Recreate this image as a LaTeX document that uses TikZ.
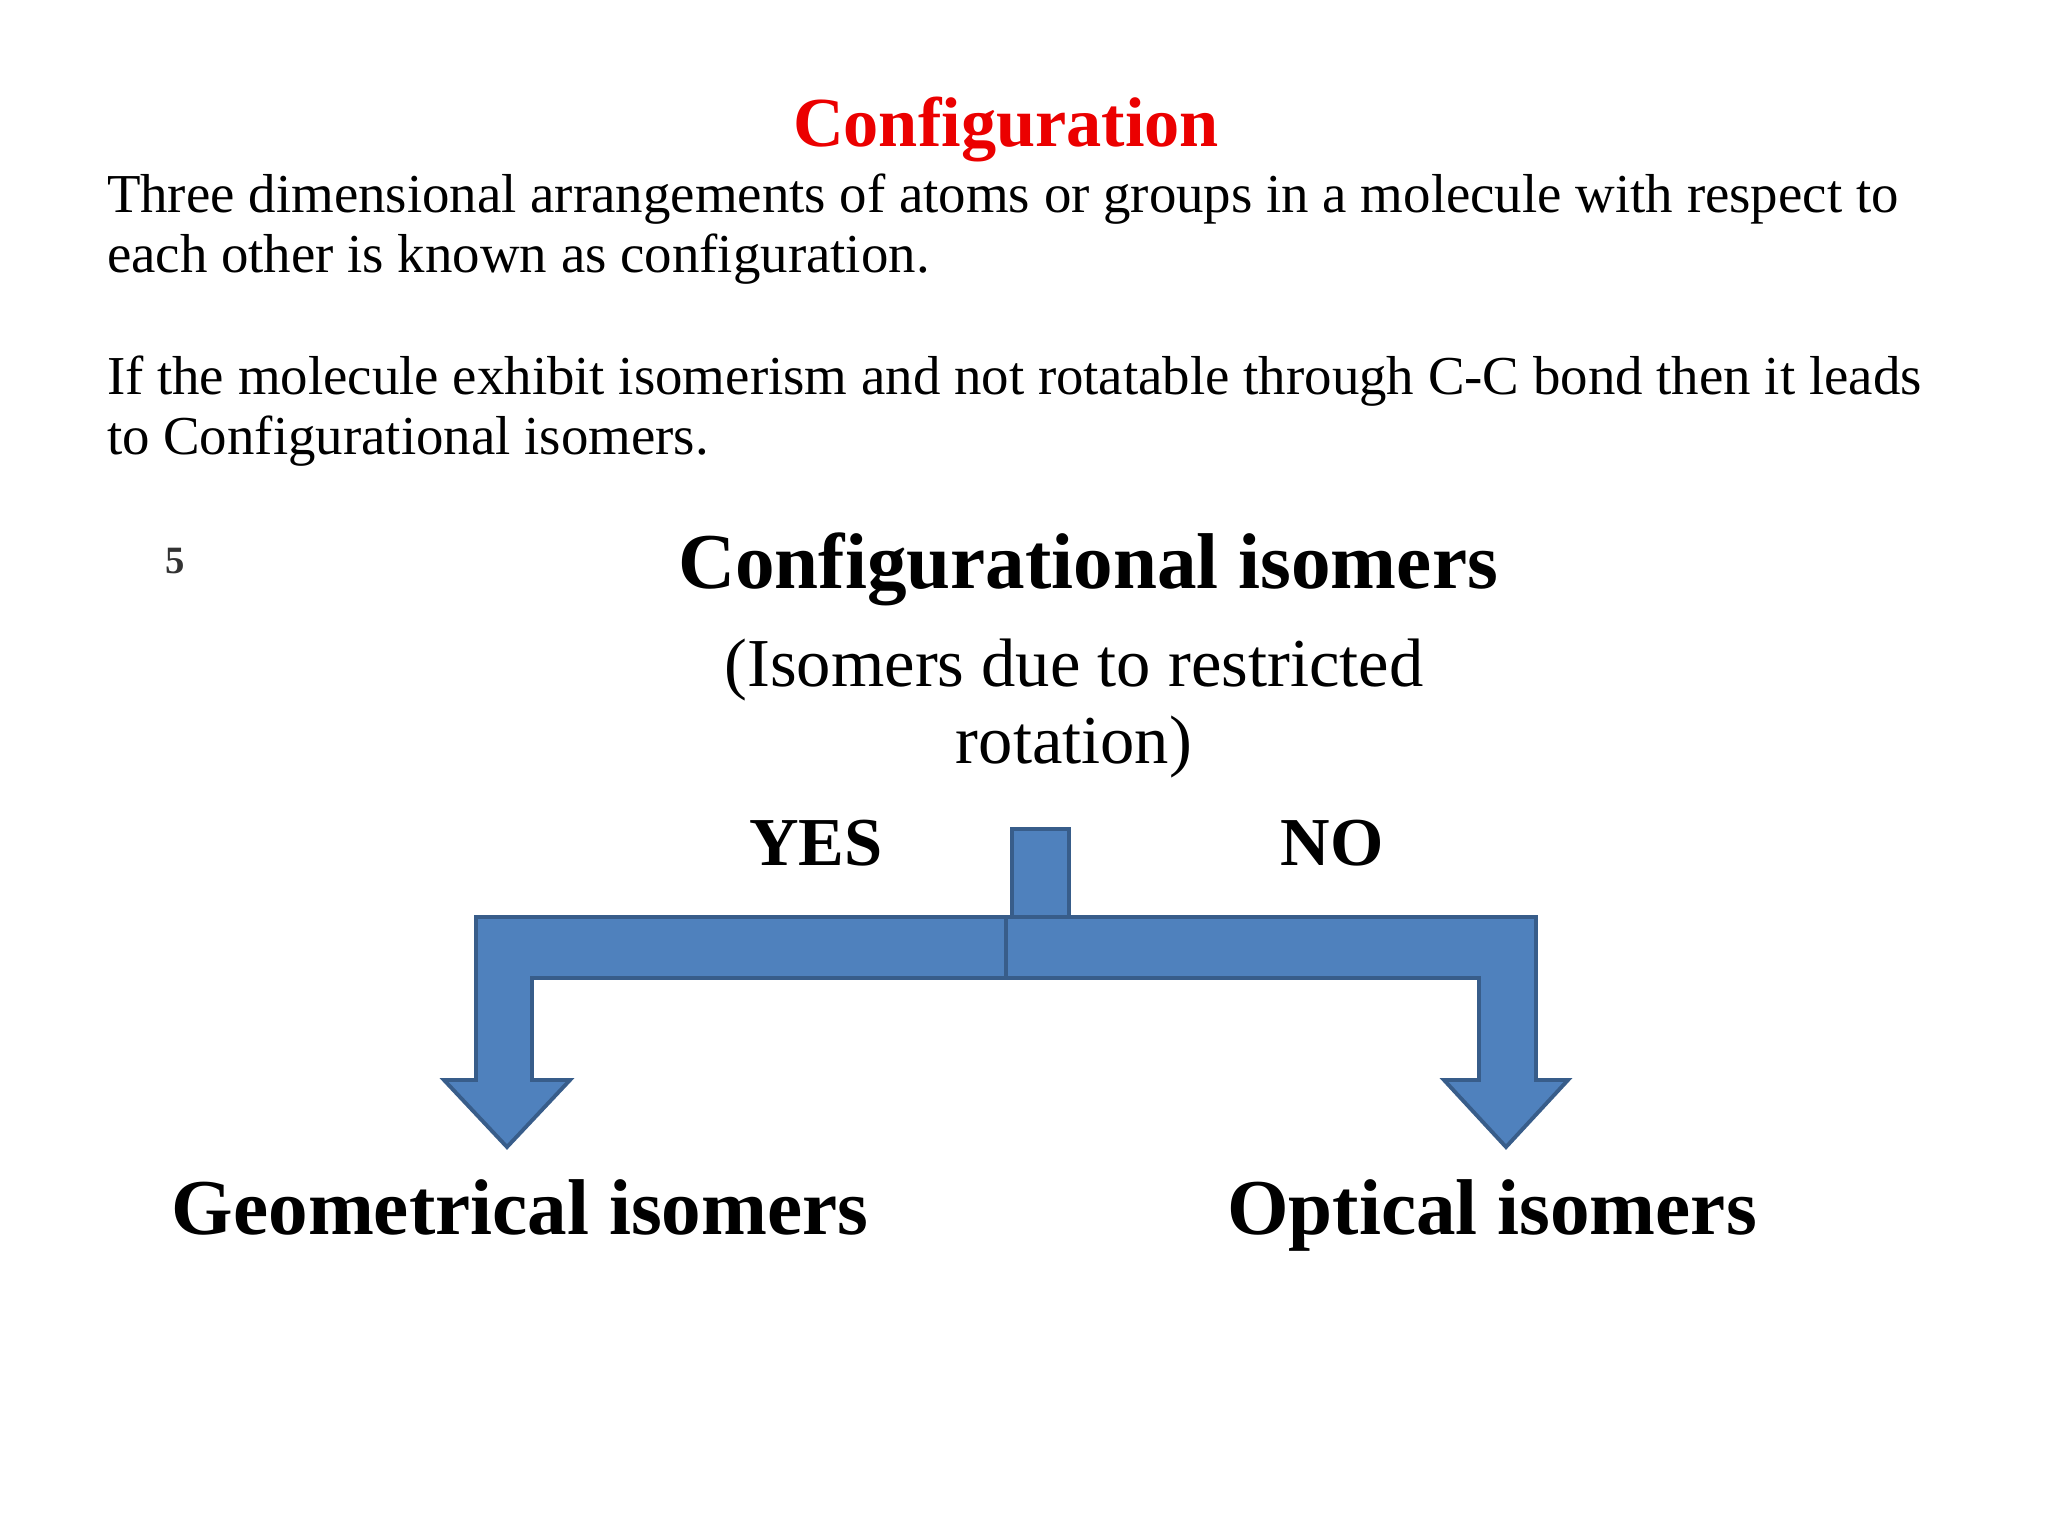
\documentclass[tikz,border=0pt]{standalone}
\usepackage{fontspec}
\setmainfont{Liberation Serif}
\usetikzlibrary{positioning}
\definecolor{titlered}{RGB}{235,0,0}
\definecolor{bandfill}{RGB}{79,129,189}
\definecolor{bandedge}{RGB}{56,93,138}

\begin{document}
\begin{tikzpicture}[
  x=0.01cm, y=-0.01cm,
  every node/.style={inner sep=0pt, outer sep=0pt},
  body/.style={anchor=base west, font=\fontsize{15.6}{18}\selectfont},
  head/.style={anchor=base, font=\fontsize{22.5}{26}\selectfont\bfseries},
  sub/.style={anchor=base, font=\fontsize{19.5}{22}\selectfont},
  choice/.style={anchor=base, font=\fontsize{19.5}{22}\selectfont\bfseries},
  band/.style={fill=bandfill, draw=bandedge, line width=1.1pt, line join=miter}
]
  \useasboundingbox (0,0) rectangle (2048,1536);

  % title and text
  \node[anchor=base, font=\fontsize{20}{24}\selectfont\bfseries, text=titlered] (title) at (1006,146) {Configuration};
  \node[body] (line1) at (107,212) {Three dimensional arrangements of atoms or groups in a molecule with respect to};
  \node[body] (line2) at (107,272) {each other is known as configuration.};
  \node[body] (line3) at (107,394) {If the molecule exhibit isomerism and not rotatable through C-C bond then it leads};
  \node[body] (line4) at (107,454) {to Configurational isomers.};

  % chart
  \node[anchor=base, font=\fontsize{11}{11}\selectfont\bfseries, text=black!80] (mark) at (175,573) {5};
  \node[head] (config) at (1088,588) {Configurational isomers};
  \node[sub] (restr) at (1074,686) {(Isomers due to restricted};
  \node[sub] (rot) at ([yshift=-22pt]restr.base) {rotation)};
  \node[choice] (yes) at (816,865) {YES};
  \node[choice] (no) at (1332,865) {NO};
  \node[head] (geo) at (520,1234) {Geometrical isomers};
  \node[head] (opt) at (1492,1234) {Optical isomers};

  % split arrow
  \draw[band] (1012,829) rectangle (1069,917);
  \draw[band] (1006,917) -- (476,917) -- (476,1080) -- (444,1080) -- (507,1147)
    -- (570,1080) -- (532,1080) -- (532,978) -- (1006,978) -- cycle;
  \draw[band] (1006,917) -- (1536,917) -- (1536,1080) -- (1568,1080) -- (1506,1147)
    -- (1444,1080) -- (1479,1080) -- (1479,978) -- (1006,978) -- cycle;
\end{tikzpicture}
\end{document}
